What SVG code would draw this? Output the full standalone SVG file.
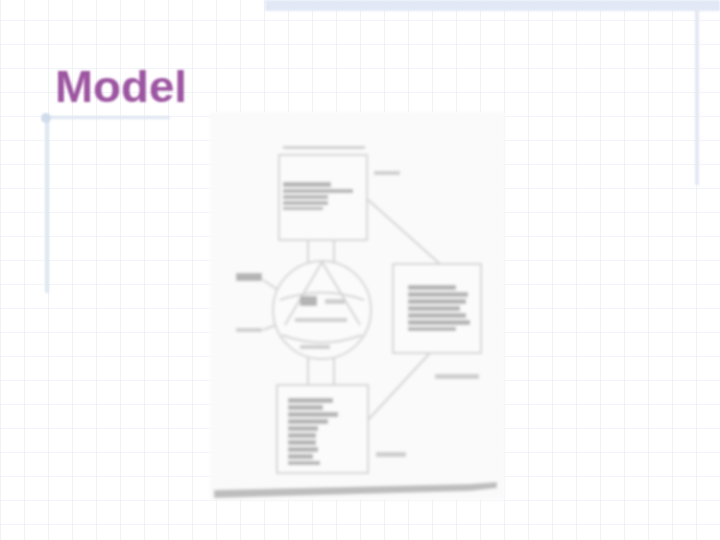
<svg xmlns="http://www.w3.org/2000/svg" width="720" height="540" viewBox="0 0 720 540">
<defs>
<pattern id="grid" x="0" y="20" width="24" height="24" patternUnits="userSpaceOnUse">
<path d="M0 0H24M0 0V24" fill="none" stroke="#e6eaf4" stroke-width="1.2"/>
</pattern>
<filter id="blur" x="-10%" y="-10%" width="120%" height="120%"><feGaussianBlur stdDeviation="1.8"/></filter>
<filter id="blur2" x="-10%" y="-10%" width="120%" height="120%"><feGaussianBlur stdDeviation="1.3"/></filter>
</defs>
<style>
.ln{fill:none;stroke:#d2d2d2;stroke-width:2}
.bx{fill:#fbfbfb;stroke:#d4d4d4;stroke-width:2}
.tx{fill:#b4b4b4}
.tl{fill:#cdcdcd}
</style>
<rect width="720" height="540" fill="#ffffff"/>
<rect width="720" height="540" fill="url(#grid)"/>
<g filter="url(#blur2)">
<rect x="265" y="0" width="455" height="11" fill="#e2e8f6"/>
<rect x="695" y="0" width="4" height="185" fill="#e3e8f4"/>
<rect x="45" y="118" width="4" height="175" fill="#e0e7f2"/>
<rect x="45" y="116" width="125" height="3" fill="#e0e7f2"/>
<circle cx="46" cy="118" r="5" fill="#d0dbeb"/>
</g>
<text x="55" y="102" font-family="Liberation Sans, Arial, sans-serif" font-weight="bold" font-size="44" fill="#9c54a0" filter="url(#blur2)" textLength="132" lengthAdjust="spacingAndGlyphs">Model</text>
<g filter="url(#blur)">
<rect x="210" y="112" width="295" height="388" fill="#fafafa"/>
<g id="connectors">
<line class="ln" x1="366" y1="198" x2="440" y2="264"/>
<line class="ln" x1="430" y1="353" x2="368" y2="420"/>
<line class="ln" x1="308" y1="240" x2="308" y2="262"/>
<line class="ln" x1="334" y1="240" x2="334" y2="262"/>
<line class="ln" x1="308" y1="358" x2="308" y2="385"/>
<line class="ln" x1="334" y1="358" x2="334" y2="385"/>
<line class="ln" x1="263" y1="280" x2="278" y2="290"/>
<line class="ln" x1="263" y1="330" x2="276" y2="325"/>
</g>
<g id="top-box">
<rect class="bx" x="279" y="155" width="88" height="85"/>
<rect class="tl" x="283" y="146" width="82" height="3"/>
<rect class="tx" x="283" y="182" width="48" height="5"/>
<rect class="tx" x="283" y="189" width="70" height="4"/>
<rect class="tx" x="283" y="195" width="45" height="4"/>
<rect class="tx" x="283" y="201" width="45" height="4"/>
<rect class="tx" x="283" y="207" width="40" height="3"/>
<rect class="tl" x="374" y="171" width="26" height="4"/>
</g>
<g id="circle-node">
<circle cx="322" cy="310" r="49" fill="#fbfbfb" stroke="#d4d4d4" stroke-width="2"/>
<path class="ln" d="M322 262L285 325M322 262L360 325M280 300Q322 285 364 300M282 335Q322 350 362 335" stroke-width="1.5"/>
<rect class="tx" x="300" y="296" width="17" height="10"/>
<rect class="tl" x="325" y="299" width="20" height="5"/>
<rect class="tl" x="295" y="318" width="52" height="4"/>
<rect class="tl" x="300" y="345" width="30" height="4"/>
<rect class="tx" x="236" y="273" width="26" height="8"/>
<rect class="tl" x="236" y="328" width="26" height="4"/>
</g>
<g id="right-box">
<rect class="bx" x="393" y="264" width="88" height="89"/>
<rect class="tx" x="408" y="285" width="48" height="5"/>
<rect class="tx" x="408" y="292" width="60" height="5"/>
<rect class="tx" x="408" y="299" width="58" height="5"/>
<rect class="tx" x="408" y="306" width="52" height="5"/>
<rect class="tx" x="408" y="313" width="58" height="5"/>
<rect class="tx" x="408" y="320" width="62" height="5"/>
<rect class="tx" x="408" y="327" width="48" height="4"/>
<rect class="tl" x="435" y="374" width="44" height="5"/>
</g>
<g id="bottom-box">
<rect class="bx" x="277" y="385" width="91" height="88"/>
<rect class="tx" x="288" y="398" width="45" height="5"/>
<rect class="tx" x="288" y="405" width="35" height="5"/>
<rect class="tx" x="288" y="412" width="50" height="5"/>
<rect class="tx" x="288" y="419" width="40" height="5"/>
<rect class="tx" x="288" y="426" width="30" height="5"/>
<rect class="tx" x="288" y="433" width="28" height="5"/>
<rect class="tx" x="288" y="440" width="28" height="5"/>
<rect class="tx" x="288" y="447" width="30" height="5"/>
<rect class="tx" x="288" y="454" width="25" height="5"/>
<rect class="tx" x="288" y="461" width="32" height="4"/>
<rect class="tl" x="376" y="452" width="30" height="5"/>
</g>
<polygon points="214,490 470,484 497,482 497,488 470,491 214,498" fill="#bdbdbd"/>
</g>
</svg>
